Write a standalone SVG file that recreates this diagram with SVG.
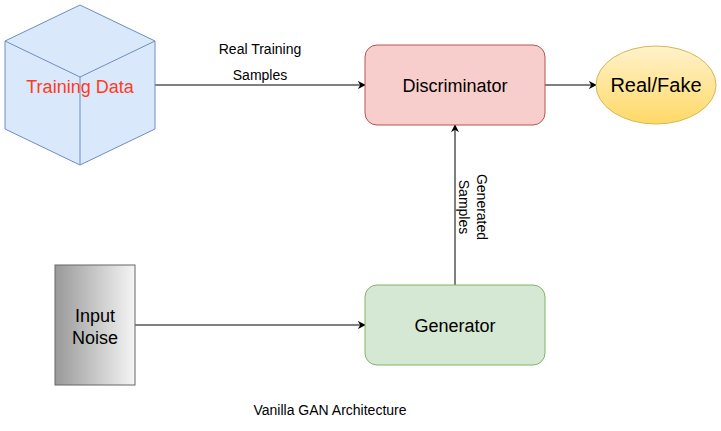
<svg xmlns="http://www.w3.org/2000/svg" width="721" height="431" viewBox="0 0 721 431">
<style>
text{font-family:"Liberation Sans",Arial,sans-serif;fill:#000}
.c{stroke:#000;stroke-width:1;fill:none;marker-end:url(#a)}
.cube{fill:#dae8fc;stroke:#6c8ebf;stroke-width:1}
</style>
<defs>
<marker id="a" viewBox="0 0 10 10" refX="9" refY="5" markerWidth="8" markerHeight="8" orient="auto" markerUnits="userSpaceOnUse"><path d="M0,0 L10,5 L0,10 L3,5 Z" fill="#000"/></marker>
<linearGradient id="y" x1="0" y1="0" x2="0" y2="1"><stop offset="0" stop-color="#fff2cc"/><stop offset="1" stop-color="#ffd966"/></linearGradient>
<linearGradient id="g" x1="0" y1="0" x2="1" y2="0"><stop offset="0" stop-color="#999"/><stop offset="1" stop-color="#f5f5f5"/></linearGradient>
</defs>
<rect width="721" height="431" fill="#fff"/>
<g id="connectors">
<path class="c" d="M155,85 H365"/>
<path class="c" d="M545,85 H596"/>
<path class="c" d="M455,285 V125"/>
<path class="c" d="M135,325 H365"/>
<text x="260" y="54" font-size="14" text-anchor="middle">Real Training</text>
<text x="260" y="80" font-size="14" text-anchor="middle">Samples</text>
<text transform="translate(473,207) rotate(90)" font-size="14" text-anchor="middle"><tspan x="0" y="-4">Generated</tspan><tspan x="0" y="14">Samples</tspan></text>
</g>
<g id="training-data">
<path class="cube" d="M80,5 L155,41 L155,129 L80,165 L5,129 L5,41 Z"/>
<path class="cube" d="M5,41 L80,77 L155,41 M80,77 V165" fill="none"/>
<text x="80" y="93" font-size="18" text-anchor="middle" style="fill:#ff3b1f">Training Data</text>
</g>
<g id="discriminator">
<rect x="365" y="45" width="180" height="80" rx="12" fill="#f8cecc" stroke="#b85450"/>
<text x="455" y="92" font-size="18" text-anchor="middle">Discriminator</text>
</g>
<g id="real-fake">
<ellipse cx="656" cy="85" rx="60" ry="39" fill="url(#y)" stroke="#d6b656"/>
<text x="656" y="92" font-size="20" text-anchor="middle">Real/Fake</text>
</g>
<g id="generator">
<rect x="365" y="285" width="180" height="80" rx="12" fill="#d5e8d4" stroke="#82b366"/>
<text x="455" y="332" font-size="18" text-anchor="middle">Generator</text>
</g>
<g id="input-noise">
<rect x="55" y="265" width="80" height="120" fill="url(#g)" stroke="#666"/>
<text x="95" y="322" font-size="18" text-anchor="middle">Input</text>
<text x="95" y="344" font-size="18" text-anchor="middle">Noise</text>
</g>
<text x="330" y="415" font-size="14" text-anchor="middle">Vanilla GAN Architecture</text>
</svg>
